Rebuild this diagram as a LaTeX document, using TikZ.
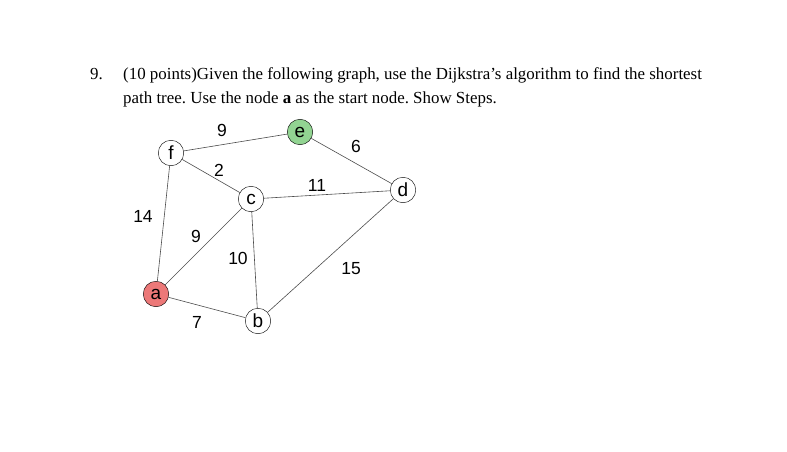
\documentclass[tikz,border=0pt]{standalone}
\usepackage{fontspec}
\setmainfont{Liberation Serif}
\newfontfamily\graphfont{Liberation Sans}
\usetikzlibrary{positioning}
\definecolor{startred}{RGB}{236,120,120}
\definecolor{endgreen}{RGB}{146,212,146}
\frenchspacing
\begin{document}
\begin{tikzpicture}[x=1pt, y=-1pt,
  every node/.style={font=\graphfont\fontsize{17.5}{20}\selectfont},
  vert/.style={draw, circle, minimum size=25.5pt, inner sep=0pt, fill=white,
    font=\graphfont\fontsize{19}{20}\selectfont},
  edge/.style={draw=black!70, line width=0.6pt},
  wt/.style={inner sep=1pt},
  task/.style={font=\rmfamily\fontsize{16.9}{24}\selectfont, inner sep=0pt}]
\useasboundingbox (0,0) rectangle (787,452);
\node[task, anchor=base west] (num) at (90,79) {9.};
\node[task, anchor=base west, align=left] (question) at (123,103)
  {(10 points)Given the following graph, use the Dijkstra's algorithm to find the shortest\\
   path tree. Use the node \textbf{a} as the start node. Show Steps.};
\node[vert] (f) at (171,153) {f};
\node[vert, fill=endgreen] (e) at (300,132) {e};
\node[vert] (c) at (251,199) {c};
\node[vert] (d) at (403,190) {d};
\node[vert, fill=startred] (a) at (156,294) {a};
\node[vert] (b) at (258,321) {b};
\draw[edge] (f) -- (e); \draw[edge] (e) -- (d); \draw[edge] (f) -- (c); \draw[edge] (c) -- (d);
\draw[edge] (f) -- (a); \draw[edge] (a) -- (c); \draw[edge] (c) -- (b); \draw[edge] (b) -- (d);
\draw[edge] (a) -- (b);
\node[wt] (wfe) at (222,130) {9};
\node[wt] (wed) at (356,146) {6};
\node[wt] (wfc) at (219,170) {2};
\node[wt] (wcd) at (317,185) {11};
\node[wt] (wfa) at (143,216) {14};
\node[wt] (wac) at (196,236) {9};
\node[wt] (wcb) at (238,258) {10};
\node[wt] (wbd) at (351,269) {15};
\node[wt] (wab) at (197,322) {7};
\end{tikzpicture}
\end{document}
